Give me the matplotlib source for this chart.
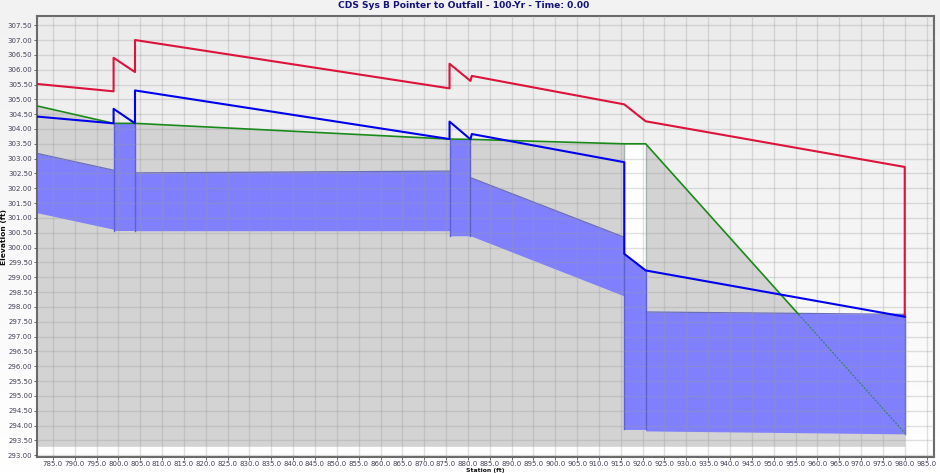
import numpy as np
import matplotlib
matplotlib.use('Agg')
import matplotlib.pyplot as plt
from matplotlib.colors import LinearSegmentedColormap

# Profile data, station (ft) / elevation (ft)
egl_x = [781.3, 798.9, 798.9, 803.8, 803.8, 875.8, 875.8, 880.6, 880.9, 915.8, 920.7, 980.0, 980.0]
egl_y = [305.52, 305.27, 306.40, 305.92, 307.00, 305.37, 306.20, 305.62, 305.79, 304.83, 304.26, 302.72, 297.67]

hgl_x = [781.3, 798.9, 798.9, 803.8, 803.8, 875.8, 875.8, 880.6, 880.9, 915.8, 915.8, 920.7, 980.0]
hgl_y = [304.42, 304.19, 304.68, 304.19, 305.30, 303.66, 304.25, 303.65, 303.83, 302.88, 299.79, 299.23, 297.67]

ground_x = [781.3, 798.9, 803.8, 875.8, 880.6, 915.8, 920.7, 955.7]
ground_y = [304.78, 304.19, 304.19, 303.66, 303.65, 303.50, 303.50, 297.75]
buried_x = [955.7, 980.0]
buried_y = [297.75, 293.75]
ground_floor = 293.30

# pipe runs
pipe_x0 = [781.3, 803.8, 880.6, 920.7]
pipe_x1 = [798.9, 875.8, 915.8, 980.0]
crown0 = [303.18, 302.52, 302.36, 297.83]
crown1 = [302.61, 302.58, 300.35, 297.75]
invert0 = [301.18, 300.57, 300.40, 293.82]
invert1 = [300.62, 300.57, 298.37, 293.72]

# junction structures
junc_x0 = [798.9, 875.8, 915.8]
junc_x1 = [803.8, 880.6, 920.7]
junc_top0 = [304.19, 303.66, 299.79]
junc_top1 = [304.19, 303.65, 299.23]
junc_floor = [300.55, 300.40, 293.87]

xticks = np.arange(785, 986, 5)
yticks = np.arange(293, 307.6, 0.5)

RED = '#dc143c'
BLUE = '#0000ee'
GREEN = '#1a8a1a'
FILL = '#8080ff'
EDGE = '#6a6eb8'
SIDE = '#5c60d4'
GRAY = '#d3d3d3'
TXT = '#44445a'

plt.rcParams['font.family'] = ['DejaVu Sans']

W, H = 940, 473
fig = plt.figure(figsize=(W/100, H/100), dpi=100)

# background gradients
grad = np.linspace(0, 1, 256).reshape(-1, 1)
bg = fig.add_axes([0, 0, 1, 1], zorder=0)
bg.imshow(grad, aspect='auto', cmap=LinearSegmentedColormap.from_list('fg', ['#f2f2f2', '#ffffff']))
bg.axis('off')

ax = fig.add_axes([36.7/W, 1-457/H, (934-36.7)/W, (457-15.7)/H], zorder=1)
ax.imshow(grad, aspect='auto', cmap=LinearSegmentedColormap.from_list('bg', ['#ebebeb', '#ffffff']),
          extent=[781.3, 986.7, 292.94, 307.82], zorder=0)

# ground, with the open structure cut out
ax.fill_between(ground_x + buried_x, ground_y + buried_y, ground_floor, color=GRAY, lw=0, zorder=1)
ax.fill_between([junc_x0[2], junc_x1[2]], junc_floor[2], ground_y[5], color='white', lw=0, zorder=1.5)
ax.plot([junc_x0[2]]*2, [junc_top0[2], ground_y[5]], color='#a8b0b0', lw=1, zorder=1.6)
ax.plot([junc_x1[2]]*2, [junc_top1[2], ground_y[6]], color='#a8b0b0', lw=1, zorder=1.6)

# pipes
for i in range(len(pipe_x0)):
    ax.fill_between([pipe_x0[i], pipe_x1[i]], [crown0[i], crown1[i]], [invert0[i], invert1[i]],
                    color=FILL, lw=0, zorder=2)
    ax.plot([pipe_x0[i], pipe_x1[i]], [crown0[i], crown1[i]], color=EDGE, lw=0.9, zorder=2.5)
for i in range(len(junc_x0)):
    ax.fill_between([junc_x0[i], junc_x1[i]], [junc_top0[i], junc_top1[i]], junc_floor[i],
                    color=FILL, lw=0, zorder=2)
    ax.plot([junc_x0[i]]*2, [junc_floor[i], junc_top0[i]], color=SIDE, lw=1, zorder=2.5)
    ax.plot([junc_x1[i]]*2, [junc_floor[i], junc_top1[i]], color=SIDE, lw=1, zorder=2.5)
ax.plot([pipe_x1[3]]*2, [invert1[3], crown1[3]], color=SIDE, lw=1, zorder=2.5)

ax.set_xticks(xticks)
ax.set_yticks(yticks)
ax.grid(True, color='#9a9a9a', alpha=0.3, lw=1.0, zorder=3)
ax.set_axisbelow(False)

ax.plot(ground_x, ground_y, color=GREEN, lw=1.2, zorder=4)
ax.plot(buried_x, buried_y, color='#3a7f6a', lw=0.9, ls=(0, (1.5, 1.2)), zorder=4)
ax.plot(egl_x, egl_y, color=RED, lw=1.5, zorder=5)
ax.plot(hgl_x, hgl_y, color=BLUE, lw=1.5, zorder=6)

ax.set_xlim(781.3, 986.7)
ax.set_ylim(292.94, 307.82)
ax.set_xticklabels(['%.1f' % v for v in xticks])
ax.set_yticklabels(['%.2f' % v for v in yticks])
ax.tick_params(axis='both', labelsize=5, length=2, width=0.6, color='#555555', labelcolor=TXT, pad=1)
for s in ax.spines.values():
    s.set_color('#6a6a6a')
    s.set_linewidth(1.5)

fig.text(464/W, 1-6/H, 'CDS Sys B Pointer to Outfall - 100-Yr - Time: 0.00', ha='center', va='center',
         fontsize=6.6, fontweight='bold', color='#14147a')
fig.text(4/W, 1-237/H, 'Elevation (ft)', rotation=90, ha='center', va='center',
         fontsize=5.4, fontweight='bold', color='#111111')
fig.text(485/W, 0.2/H, 'Station (ft)', ha='center', va='bottom',
         fontsize=4.4, fontweight='bold', color='#111111')

fig.savefig('out.png', dpi=100)
